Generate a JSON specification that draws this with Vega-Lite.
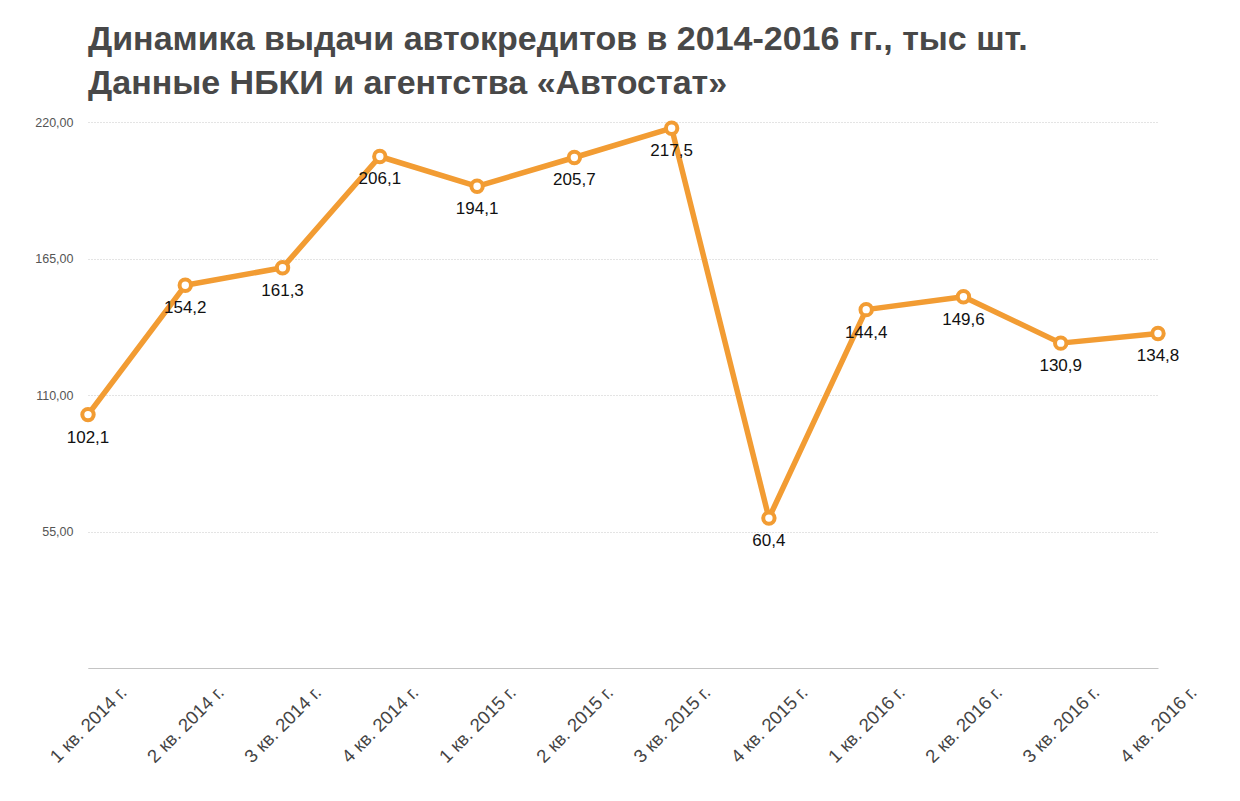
{
  "$schema": "https://vega.github.io/schema/vega-lite/v6.json",
  "width": 1070,
  "height": 546,
  "autosize": {"type": "none"},
  "padding": {"left": 88, "top": 122, "right": 82, "bottom": 133},
  "background": "white",
  "title": {
    "text": ["Динамика выдачи автокредитов в 2014-2016 гг., тыс шт.", "Данные НБКИ и агентства «Автостат»"],
    "anchor": "start",
    "frame": "group",
    "font": "Liberation Sans",
    "fontSize": 34,
    "fontWeight": "bold",
    "color": "#484848",
    "lineHeight": 44,
    "offset": 14
  },
  "data": {
    "values": [
      {"q": "1 кв. 2014 г.", "v": 102.1, "lbl": "102,1"},
      {"q": "2 кв. 2014 г.", "v": 154.2, "lbl": "154,2"},
      {"q": "3 кв. 2014 г.", "v": 161.3, "lbl": "161,3"},
      {"q": "4 кв. 2014 г.", "v": 206.1, "lbl": "206,1"},
      {"q": "1 кв. 2015 г.", "v": 194.1, "lbl": "194,1"},
      {"q": "2 кв. 2015 г.", "v": 205.7, "lbl": "205,7"},
      {"q": "3 кв. 2015 г.", "v": 217.5, "lbl": "217,5"},
      {"q": "4 кв. 2015 г.", "v": 60.4, "lbl": "60,4"},
      {"q": "1 кв. 2016 г.", "v": 144.4, "lbl": "144,4"},
      {"q": "2 кв. 2016 г.", "v": 149.6, "lbl": "149,6"},
      {"q": "3 кв. 2016 г.", "v": 130.9, "lbl": "130,9"},
      {"q": "4 кв. 2016 г.", "v": 134.8, "lbl": "134,8"}
    ]
  },
  "encoding": {
    "x": {
      "field": "q",
      "type": "nominal",
      "sort": null,
      "scale": {"type": "point", "padding": 0},
      "axis": {
        "title": null,
        "labelAngle": -45,
        "labelAlign": "center",
        "labelBaseline": "middle",
        "labelPadding": 56,
        "labelFont": "Liberation Sans",
        "labelFontSize": 18.5,
        "labelColor": "#444444",
        "ticks": false,
        "domain": true,
        "domainColor": "#c4c4c4",
        "domainWidth": 1,
        "grid": false
      }
    },
    "y": {
      "field": "v",
      "type": "quantitative",
      "scale": {"domain": [0, 220], "nice": false},
      "axis": {
        "title": null,
        "values": [0, 55, 110, 165, 220],
        "labelExpr": "datum.value == 0 ? '' : replace(format(datum.value, '.2f'), '.', ',')",
        "labelFont": "Liberation Sans",
        "labelFontSize": 12.5,
        "labelColor": "#555555",
        "labelPadding": 15,
        "ticks": false,
        "domain": false,
        "grid": true,
        "gridColor": "#c8c8c8",
        "gridDash": [1, 2],
        "gridWidth": 1
      }
    }
  },
  "layer": [
    {
      "mark": {"type": "line", "color": "#F29C33", "strokeWidth": 5.5, "strokeJoin": "round"}
    },
    {
      "mark": {"type": "point", "shape": "circle", "filled": true, "fill": "white", "stroke": "#F29C33", "strokeWidth": 4, "size": 130, "opacity": 1}
    },
    {
      "mark": {"type": "text", "dy": 23, "font": "Liberation Sans", "fontSize": 17, "fontWeight": "normal", "color": "#111111"},
      "encoding": {"text": {"field": "lbl"}}
    }
  ],
  "config": {"view": {"stroke": null}}
}
